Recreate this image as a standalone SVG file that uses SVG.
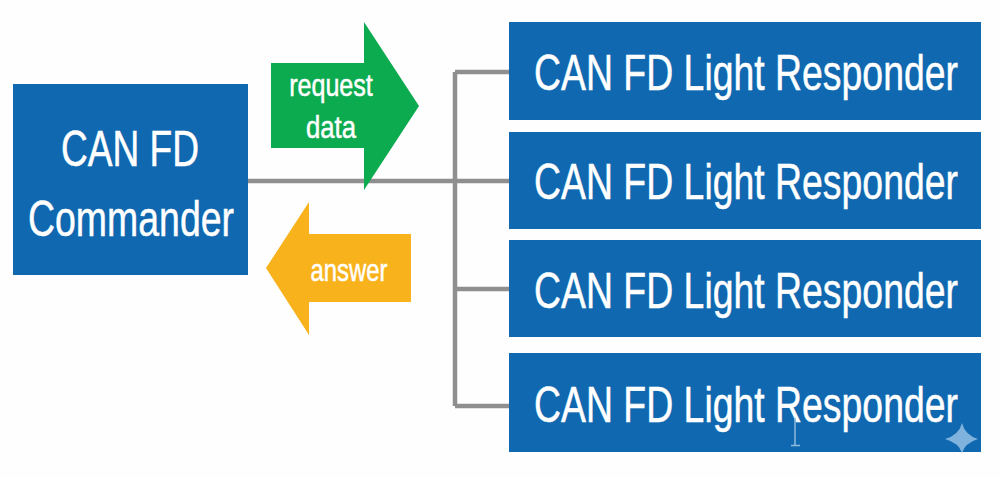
<svg xmlns="http://www.w3.org/2000/svg" width="1000" height="478" viewBox="0 0 1000 478">
<style>
.box{fill:#0f68b0}
.t{font-family:"Liberation Sans",Arial,sans-serif;fill:#fff;text-anchor:middle;stroke:#fff;stroke-width:.5}
.r,.c{font-size:50px}
.a{font-size:31px}
.line{stroke:#8f8f8f;stroke-width:4.5;fill:none}
</style>
<rect width="1000" height="478" fill="#fefefe"/>
<g id="connectors">
<path class="line" d="M248 181H509M455 72V406M455 72H509M455 289H509M455 406H513"/>
</g>
<g id="request-data">
<polygon points="271,63 364,63 364,22 419,106 364,190 364,148 271,148" fill="#0dab50"/>
<text class="t a" transform="translate(331 96) scale(.81 1)">request</text>
<text class="t a" transform="translate(331 138) scale(.83 1)">data</text>
</g>
<g id="answer">
<polygon points="411,234 309,234 309,202 266,268 309,335 309,302 411,302" fill="#f7b21c"/>
<text class="t a" transform="translate(349 281) scale(.77 1)">answer</text>
</g>
<g id="commander">
<rect class="box" x="13" y="84" width="235" height="191"/>
<text class="t c" transform="translate(130 166) scale(.742 1)">CAN FD</text>
<text class="t c" transform="translate(131 236) scale(.749 1)">Commander</text>
</g>
<g id="responder-1">
<rect class="box" x="509" y="22" width="472" height="98"/>
<text class="t r" transform="translate(746 90) scale(.748 1)">CAN FD Light Responder</text>
</g>
<g id="responder-2">
<rect class="box" x="509" y="132" width="472" height="97"/>
<text class="t r" transform="translate(746 199) scale(.748 1)">CAN FD Light Responder</text>
</g>
<g id="responder-3">
<rect class="box" x="509" y="240" width="472" height="97"/>
<text class="t r" transform="translate(746 308) scale(.748 1)">CAN FD Light Responder</text>
</g>
<g id="responder-4">
<rect class="box" x="509" y="353" width="472" height="99"/>
<text class="t r" transform="translate(746 422) scale(.748 1)">CAN FD Light Responder</text>
<path d="M795 418V445M791 445.500H800" stroke="#8fbbdc" stroke-width="1.500" fill="none"/>
<path d="M962 423Q965 435 978 439Q965 443 962 453Q959 443 945 439Q959 435 962 423Z" fill="#7fb3de"/>
</g>
</svg>
